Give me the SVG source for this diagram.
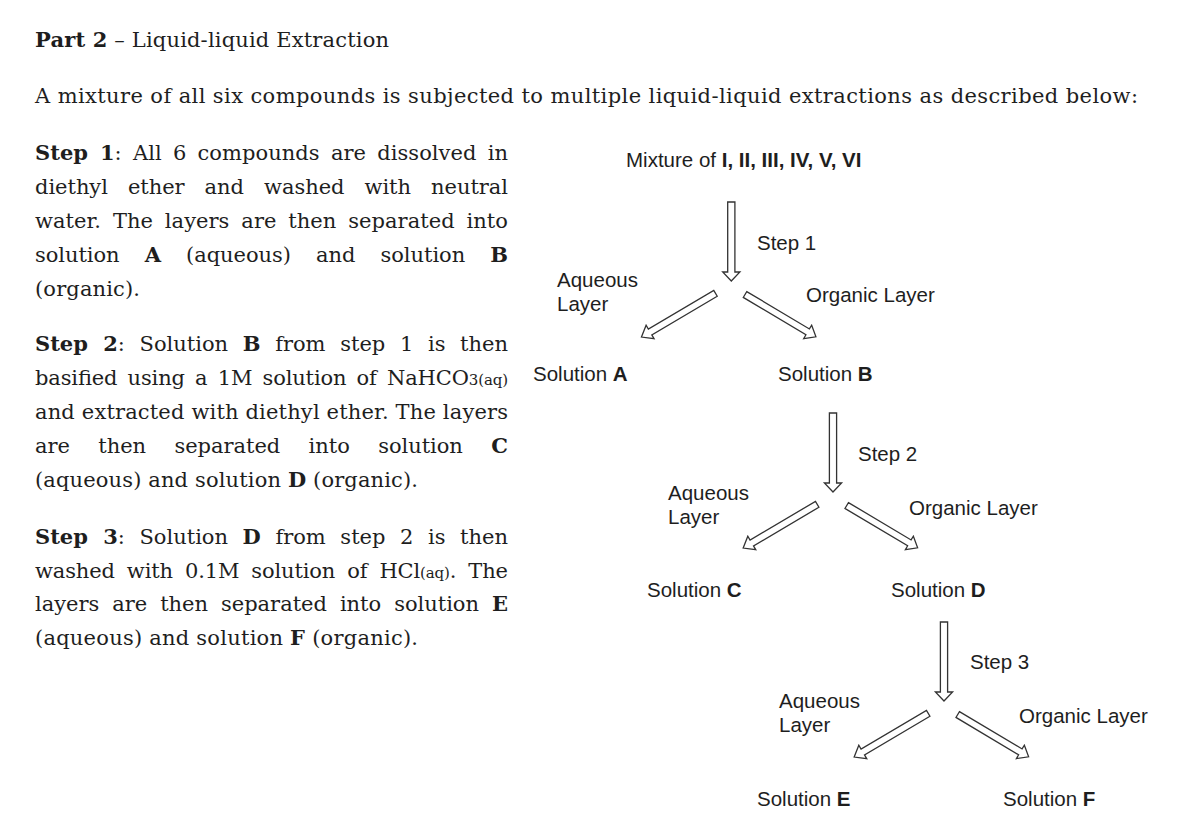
<svg xmlns="http://www.w3.org/2000/svg" width="1200" height="835" viewBox="0 0 1200 835">
<style>
.s{font-family:"DejaVu Serif","Liberation Serif",serif;font-size:21px;fill:#1e1e1e}
.l{font-family:"Liberation Sans",Arial,sans-serif;font-size:20.5px;fill:#1e1e1e}
.b{font-weight:bold}
.sub{font-size:15px}
.ar{fill:#fff;stroke:#333;stroke-width:1.3;stroke-linejoin:miter}
</style>
<defs>
<path id="va" class="ar" d="M-3.6,0 H3.6 V70 H8.6 L0,79 L-8.6,70 H-3.6 Z"/>
<path id="da" class="ar" d="M0,-3.4 H76 V-7.8 L86,0 L76,7.8 V3.4 H0 Z"/>
</defs>
<rect width="1200" height="835" fill="#fff"/>
<g id="text-left">
<text class="s" x="35" y="47" textLength="354" lengthAdjust="spacing"><tspan class="b">Part 2</tspan> – Liquid-liquid Extraction</text>
<text class="s" x="35" y="103" textLength="1103" lengthAdjust="spacing">A mixture of all six compounds is subjected to multiple liquid-liquid extractions as described below:</text>

<text class="s" x="35" y="160" word-spacing="4.5" textLength="473" lengthAdjust="spacing"><tspan class="b">Step 1</tspan>: All 6 compounds are dissolved in</text>
<text class="s" x="35" y="194" word-spacing="13.4" textLength="473" lengthAdjust="spacing">diethyl ether and washed with neutral</text>
<text class="s" x="35" y="228" word-spacing="5.2" textLength="473" lengthAdjust="spacing">water. The layers are then separated into</text>
<text class="s" x="35" y="262" word-spacing="18.5" textLength="473" lengthAdjust="spacing">solution <tspan class="b">A</tspan> (aqueous) and solution <tspan class="b">B</tspan></text>
<text class="s" x="35" y="296" textLength="105" lengthAdjust="spacing">(organic).</text>

<text class="s" x="35" y="351" word-spacing="8" textLength="473" lengthAdjust="spacing"><tspan class="b">Step 2</tspan>: Solution <tspan class="b">B</tspan> from step 1 is then</text>
<text class="s" x="35" y="385" word-spacing="3.7" textLength="473" lengthAdjust="spacing">basified using a 1M solution of NaHCO<tspan class="sub">3(aq)</tspan></text>
<text class="s" x="35" y="419" textLength="473" lengthAdjust="spacing">and extracted with diethyl ether. The layers</text>
<text class="s" x="35" y="453" word-spacing="21.8" textLength="473" lengthAdjust="spacing">are then separated into solution <tspan class="b">C</tspan></text>
<text class="s" x="35" y="487" textLength="383" lengthAdjust="spacing">(aqueous) and solution <tspan class="b">D</tspan> (organic).</text>

<text class="s" x="35" y="544" word-spacing="7.9" textLength="473" lengthAdjust="spacing"><tspan class="b">Step 3</tspan>: Solution <tspan class="b">D</tspan> from step 2 is then</text>
<text class="s" x="35" y="578" word-spacing="5.5" textLength="473" lengthAdjust="spacing">washed with 0.1M solution of HCl<tspan class="sub">(aq)</tspan>. The</text>
<text class="s" x="35" y="611" word-spacing="6.3" textLength="473" lengthAdjust="spacing">layers are then separated into solution <tspan class="b">E</tspan></text>
<text class="s" x="35" y="645" textLength="383" lengthAdjust="spacing">(aqueous) and solution <tspan class="b">F</tspan> (organic).</text>
</g>
<g id="connectors">
<use href="#va" x="731.3" y="202"/>
<use href="#da" transform="translate(715.5,293.3) rotate(149.4)"/>
<use href="#da" transform="translate(745,294.5) rotate(30.8) scale(0.96,1)"/>
<use href="#va" x="833" y="413"/>
<use href="#da" transform="translate(817.2,504.3) rotate(149.4)"/>
<use href="#da" transform="translate(846.7,505.5) rotate(30.8) scale(0.96,1)"/>
<use href="#va" x="944" y="622"/>
<use href="#da" transform="translate(928.2,713.3) rotate(149.4)"/>
<use href="#da" transform="translate(957.7,714.5) rotate(30.8) scale(0.96,1)"/>
</g>
<g id="mixture"><text class="l" x="626" y="167">Mixture of <tspan class="b">I, II, III, IV, V, VI</tspan></text></g>
<g id="step1-labels">
<text class="l" x="757" y="250">Step 1</text>
<text class="l" x="557" y="287">Aqueous</text>
<text class="l" x="557" y="311">Layer</text>
<text class="l" x="806" y="302">Organic Layer</text>
</g>
<g id="solA"><text class="l" x="533" y="381">Solution <tspan class="b">A</tspan></text></g>
<g id="solB"><text class="l" x="778" y="381">Solution <tspan class="b">B</tspan></text></g>
<g id="step2-labels">
<text class="l" x="858" y="461">Step 2</text>
<text class="l" x="668" y="500">Aqueous</text>
<text class="l" x="668" y="524">Layer</text>
<text class="l" x="909" y="515">Organic Layer</text>
</g>
<g id="solC"><text class="l" x="647" y="597">Solution <tspan class="b">C</tspan></text></g>
<g id="solD"><text class="l" x="891" y="597">Solution <tspan class="b">D</tspan></text></g>
<g id="step3-labels">
<text class="l" x="970" y="669">Step 3</text>
<text class="l" x="779" y="708">Aqueous</text>
<text class="l" x="779" y="732">Layer</text>
<text class="l" x="1019" y="723">Organic Layer</text>
</g>
<g id="solE"><text class="l" x="757" y="806">Solution <tspan class="b">E</tspan></text></g>
<g id="solF"><text class="l" x="1003" y="806">Solution <tspan class="b">F</tspan></text></g>
</svg>
